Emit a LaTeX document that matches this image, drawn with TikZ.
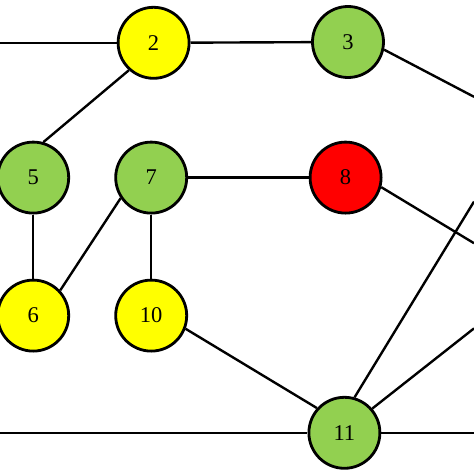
\documentclass[tikz,border=0pt]{standalone}
\usepackage{xcolor}
\usepackage{fontspec}
\setmainfont{Liberation Serif}

\definecolor{vgreen}{HTML}{92D050}
\definecolor{vyellow}{HTML}{FFFF00}
\definecolor{vred}{HTML}{FF0000}

\tikzset{
  vertex/.style={circle, draw=black, line width=2pt, minimum size=1.775cm, inner sep=0pt, font=\fontsize{16}{19}\selectfont},
  edge/.style={line width=1.7pt}
}

\begin{document}
\begin{tikzpicture}
        \path[use as bounding box, clip] (0,0) rectangle (11.85,11.85);

        % Vertices
        \node[vertex, fill=vyellow] (n2) at (3.84,10.78) {2};
        \node[vertex, fill=vgreen] (n3) at (8.70,10.80) {3};
        \node[vertex, fill=vgreen] (n5) at (0.83,7.41) {5};
        \node[vertex, fill=vgreen] (n7) at (3.78,7.41) {7};
        \node[vertex, fill=vred] (n8) at (8.64,7.41) {8};
        \node[vertex, fill=vyellow] (n6) at (0.83,3.96) {6};
        \node[vertex, fill=vyellow] (n10) at (3.78,3.96) {10};
        \node[vertex, fill=vgreen] (n11) at (8.61,1.03) {11};

        % Edges leaving the frame
        \coordinate (l2) at (0,10.78);
        \coordinate (l11) at (0,1.03);
        \coordinate (r3) at (11.85,9.43);
        \coordinate (r8) at (11.85,5.77);
        \coordinate (r11a) at (11.85,6.81);
        \coordinate (r11b) at (11.85,3.64);
        \coordinate (r11c) at (11.85,1.03);

        % Edges
        \draw[edge] (l2) -- (n2);
        \draw[edge] (n2) -- (n3);
        \draw[edge] (n3.348) -- (r3);
        \draw[edge] (n2.228) -- (n5.74);
        \draw[edge] (n7) -- (n8);
        \draw[edge] (n8.345) -- (r8);
        \draw[edge] (n5) -- (n6);
        \draw[edge] (n7.214) -- (n6.43);
        \draw[edge] (n7) -- (n10);
        \draw[edge] (n10.339) -- (n11.138);
        \draw[edge] (n11.74) -- (r11a);
        \draw[edge] (n11.41) -- (r11b);
        \draw[edge] (l11) -- (n11);
        \draw[edge] (n11) -- (r11c);
    \end{tikzpicture}
\end{document}
